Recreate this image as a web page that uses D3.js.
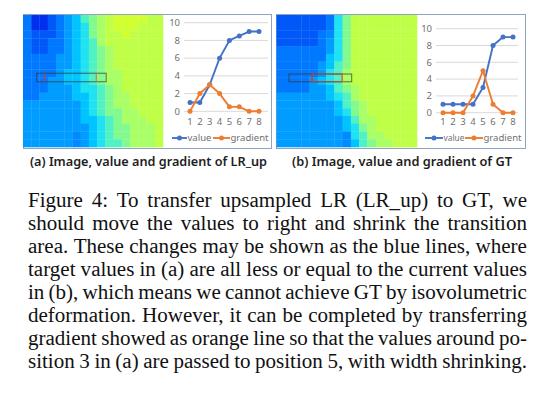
<!DOCTYPE html>
<html>
<head>
<meta charset="utf-8">
<script src="https://cdn.jsdelivr.net/npm/d3@7"></script>
<style>
body { margin: 0; background: #fff; }
svg { display: block; }
</style>
</head>
<body>
<script>
var w = 548;
var h = 393;

// line chart data
var positions = [1, 2, 3, 4, 5, 6, 7, 8];
var yTicks = [0, 2, 4, 6, 8, 10];
var valueA = [1, 1, 3, 6, 8, 8.5, 9, 9];
var gradientA = [0, 2, 3, 2, 0.5, 0.5, 0, 0];
var valueB = [1, 1, 1, 1, 3, 8, 9, 9];
var gradientB = [0, 0, 0, 2, 5, 1, 0, 0];
var legendLabels = ["value", "gradient"];

// heatmap levels (0 = dark blue ... 10 = yellow)
var imageA = [
    [2,0,0,1,2,3,4,6,7,8,9,10,10,10,10,9,9],
    [2,0,0,1,2,3,4,5,7,8,9,10,10,10,9,9,9],
    [2,1,1,1,2,3,4,5,7,8,9,9,10,9,9,9,9],
    [2,1,1,2,2,3,4,5,6,8,9,9,9,9,9,9,9],
    [2,1,1,2,2,3,4,5,6,7,8,9,9,9,9,9,9],
    [2,2,2,2,3,3,4,5,6,7,8,9,9,9,9,9,9],
    [2,2,2,2,3,3,4,5,6,7,8,9,9,9,9,9,9],
    [2,2,2,2,3,4,4,5,6,7,8,8,9,9,9,9,9],
    [2,2,2,3,3,4,4,5,6,7,8,8,9,9,9,9,9],
    [2,2,2,3,3,3,4,5,5,6,7,8,9,9,9,9,9],
    [2,2,3,3,3,3,4,4,5,6,7,8,8,9,9,9,9],
    [3,3,3,3,3,3,3,4,5,6,7,8,8,9,9,9,9],
    [3,3,3,3,3,3,3,4,5,6,7,7,8,8,9,9,9],
    [3,3,3,3,3,3,3,4,4,5,6,7,8,8,8,9,9],
    [3,3,3,3,3,3,3,3,4,5,6,7,7,8,8,8,9],
    [3,3,3,3,3,3,2.5,3,4,5,6,7,7,8,8,8,9],
    [3,3,3,3,3,3,2.5,3,4,5,6,6,7,8,8,8,9]
];
var imageB = [
    [1,1,1,1,1,1,2,5,7,9,9,9,9,9,9,9,9],
    [1,1,1,1,1,1,2,5,7,9,9,9,9,9,9,9,9],
    [1,1,1,1,1,2,2.5,5,7,9,9,9,9,9,9,9,9],
    [1,1,1,1,1,2,3,5,7,9,9,9,9,9,9,9,9],
    [2,2,2,2,2,2,3,5,7,9,9,9,9,9,9,9,9],
    [2,2,2,2,2,2,4,5,7,9,9,9,9,9,9,9,9],
    [2,2,2,2,2,3,4,6,7,9,9,9,9,9,9,9,9],
    [2,2,2,2,2,3,5,6,8,9,9,9,9,9,9,9,9],
    [2,2,2,2,3,4,5,6,8,9,9,9,9,9,9,9,9],
    [2,2,2,2,3,3,4,6,7,8,9,9,9,9,9,9,9],
    [3,3,3,3,3,3,4,5,6,8,9,9,9,9,9,9,9],
    [3,3,3,3,3,3,3,4,6,7,8,9,9,9,9,9,9],
    [3,3,3,3,3,3,3,4,5,7,8,9,9,9,9,9,9],
    [3,3,3,3,3,3,3,3,4,6,8,8,9,9,9,9,9],
    [3,3,3,3,3,3,3,3,4,5,7,8,9,9,9,9,9],
    [3,3,3,3,3,3,3,3,2.5,5,6,8,8,9,9,9,9],
    [3,3,3,3,3,3,3,3,2.5,4,6,7,8,8,9,9,9]
];
var colorStops = ["#0030ee", "#0058f8", "#0078ff", "#009cff", "#00c4ff", "#20e2f0",
    "#50f2c4", "#82fa90", "#a8ff66", "#c0ff48", "#d2ff32"];

var captions = ["(a) Image, value and gradient of LR_up", "(b) Image, value and gradient of GT"];
var paragraph = [
    "Figure 4: To transfer upsampled LR (LR_up) to GT, we",
    "should move the values to right and shrink the transition",
    "area. These changes may be shown as the blue lines, where",
    "target values in (a) are all less or equal to the current values",
    "in (b), which means we cannot achieve GT by isovolumetric",
    "deformation. However, it can be completed by transferring",
    "gradient showed as orange line so that the values around po-",
    "sition 3 in (a) are passed to position 5, with width shrinking."
];

var svg = d3.select("body")
    .append("svg")
    .attr("width", w)
    .attr("height", h);

svg.append("rect").attr("width", w).attr("height", h).attr("fill", "#fff");

var color = d3.scaleLinear()
    .domain(colorStops.map(function (d, i) { return i; }))
    .range(colorStops);

var chartFont = "Noto Sans, sans-serif";

// one panel = frame + heatmap + line chart
function drawPanel(p) {
    var g = svg.append("g");

    g.append("rect")
        .attr("x", p.frame[0] + 0.5)
        .attr("y", p.frame[1] + 0.5)
        .attr("width", p.frame[2] - p.frame[0] - 1)
        .attr("height", p.frame[3] - p.frame[1] - 1)
        .attr("fill", "#fff")
        .attr("stroke", "#8fa3c2")
        .attr("stroke-width", 1);

    var nr = p.image.length, nc = p.image[0].length;
    var cx = d3.scaleLinear().domain([0, nc]).range([p.img[0], p.img[2]]);
    var cy = d3.scaleLinear().domain([0, nr]).range([p.img[1], p.img[3]]);

    var cells = [];
    p.image.forEach(function (row, r) {
        row.forEach(function (v, c) {
            cells.push({r: r, c: c, v: v});
        });
    });
    g.selectAll("rect.cell")
        .data(cells)
        .enter()
        .append("rect")
        .attr("class", "cell")
        .attr("x", function (d) { return cx(d.c); })
        .attr("y", function (d) { return cy(d.r); })
        .attr("width", function (d) { return cx(d.c + 1) - cx(d.c) + 0.3; })
        .attr("height", function (d) { return cy(d.r + 1) - cy(d.r) + 0.3; })
        .attr("fill", function (d) { return color(d.v); });

    // selection box on the image
    var b = p.box;
    g.append("rect")
        .attr("x", cx(b.x0)).attr("y", cy(b.y0))
        .attr("width", cx(b.x1) - cx(b.x0)).attr("height", cy(b.y1) - cy(b.y0))
        .attr("fill", "none").attr("stroke", "#3a3a3a").attr("stroke-opacity", 0.75)
        .attr("stroke-width", 1);
    if (p.inner) {
        g.append("rect")
            .attr("x", cx(p.inner.x0)).attr("y", cy(b.y0))
            .attr("width", cx(p.inner.x1) - cx(p.inner.x0)).attr("height", cy(b.y1) - cy(b.y0))
            .attr("fill", "none").attr("stroke", "#c8402c").attr("stroke-width", 1);
    }
    g.append("line")
        .attr("x1", cx(p.marks[0])).attr("x2", cx(p.marks[0]))
        .attr("y1", cy(b.y0)).attr("y2", cy(b.y1))
        .attr("stroke", "#c83c3c").attr("stroke-width", 1.2);
    g.append("line")
        .attr("x1", cx(p.marks[1])).attr("x2", cx(p.marks[1]))
        .attr("y1", cy(b.y0)).attr("y2", cy(b.y1))
        .attr("stroke", "#e07a2a").attr("stroke-width", 1.2);

    // line chart
    var x = d3.scalePoint().domain(positions).range(p.xr);
    var y = d3.scaleLinear().domain([0, 10]).range(p.yr);

    g.selectAll("line.grid")
        .data(yTicks)
        .enter()
        .append("line")
        .attr("class", "grid")
        .attr("x1", p.grid[0]).attr("x2", p.grid[1])
        .attr("y1", function (d) { return y(d); })
        .attr("y2", function (d) { return y(d); })
        .attr("stroke", "#d9d9d9").attr("stroke-width", 1);

    g.selectAll("text.ytick")
        .data(yTicks)
        .enter()
        .append("text")
        .attr("class", "ytick")
        .attr("x", p.grid[0] - 4)
        .attr("y", function (d) { return y(d); })
        .attr("dy", "0.35em")
        .attr("text-anchor", "end")
        .attr("font-family", chartFont)
        .attr("font-size", 9.5)
        .attr("fill", "#707070")
        .text(function (d) { return d; });

    g.selectAll("text.xtick")
        .data(positions)
        .enter()
        .append("text")
        .attr("class", "xtick")
        .attr("x", function (d) { return x(d); })
        .attr("y", p.xLabelY)
        .attr("dy", "0.35em")
        .attr("text-anchor", "middle")
        .attr("font-family", chartFont)
        .attr("font-size", 9.5)
        .attr("fill", "#707070")
        .text(function (d) { return d; });

    var line = d3.line()
        .x(function (d, i) { return x(positions[i]); })
        .y(function (d) { return y(d); });

    var series = [
        {vals: p.value, color: "#4472c4"},
        {vals: p.gradient, color: "#ed7d31"}
    ];
    series.forEach(function (s) {
        g.append("path")
            .attr("d", line(s.vals))
            .attr("fill", "none")
            .attr("stroke", s.color)
            .attr("stroke-width", 1.9)
            .attr("stroke-linejoin", "round");
        g.selectAll(null)
            .data(s.vals)
            .enter()
            .append("circle")
            .attr("cx", function (d, i) { return x(positions[i]); })
            .attr("cy", function (d) { return y(d); })
            .attr("r", 2.5)
            .attr("fill", s.color);
    });

    // legend
    series.forEach(function (s, i) {
        var lx = p.legend[i];
        g.append("line")
            .attr("x1", lx[0]).attr("x2", lx[1])
            .attr("y1", p.legendY).attr("y2", p.legendY)
            .attr("stroke", s.color).attr("stroke-width", 1.9);
        g.append("circle")
            .attr("cx", (lx[0] + lx[1]) / 2).attr("cy", p.legendY)
            .attr("r", 2.5).attr("fill", s.color);
        g.append("text")
            .attr("x", lx[1] + 0.5)
            .attr("y", p.legendY)
            .attr("dy", "0.35em")
            .attr("font-family", chartFont)
            .attr("font-size", 9.5)
            .attr("fill", "#707070")
            .attr("textLength", p.legendW[i])
            .attr("lengthAdjust", "spacingAndGlyphs")
            .text(legendLabels[i]);
    });

    g.append("text")
        .attr("x", p.captionX)
        .attr("y", 166)
        .attr("text-anchor", "middle")
        .attr("font-family", chartFont)
        .attr("font-size", 12.5)
        .attr("font-weight", 600)
        .attr("fill", "#1e1e1e")
        .attr("textLength", p.captionW)
        .attr("lengthAdjust", "spacingAndGlyphs")
        .text(p.caption);
}

drawPanel({
    frame: [23, 14, 272, 149],
    img: [23, 15, 163, 147],
    image: imageA,
    box: {x0: 1.66, x1: 10.1, y0: 7.5, y1: 8.6},
    marks: [2.6, 8.9],
    xr: [190, 259], yr: [111.3, 22.7],
    grid: [184, 268],
    xLabelY: 122,
    legendY: 138,
    legend: [[172, 187], [213, 230]],
    legendW: [24, 38],
    value: valueA, gradient: gradientA,
    caption: captions[0], captionX: 148.5, captionW: 237
});

drawPanel({
    frame: [276, 14, 526, 149],
    img: [276.5, 15, 417, 147],
    image: imageB,
    box: {x0: 1.5, x1: 9.1, y0: 7.6, y1: 8.6},
    inner: {x0: 4.3, x1: 7.95},
    marks: [4.3, 7.95],
    xr: [443, 513], yr: [112.7, 28.7],
    grid: [436, 518],
    xLabelY: 122,
    legendY: 138,
    legend: [[425, 443], [465, 483]],
    legendW: [21, 38],
    value: valueB, gradient: gradientB,
    caption: captions[1], captionX: 402, captionW: 220
});

// justified caption paragraph: pick the size where the tightest line just fits
var left = 28, right = 527, base0 = 206.5, lead = 23.1, minGap = 0.2;
var probe = 20;
var measured = paragraph.map(function (ln) {
    var words = ln.split(" ");
    var widths = words.map(function (wd) {
        var t = svg.append("text")
            .attr("font-family", "Liberation Serif, Times New Roman, serif")
            .attr("font-size", probe)
            .text(wd);
        var len = t.node().getComputedTextLength();
        t.remove();
        return len;
    });
    return {words: words, widths: widths};
});
var fs = d3.min(measured, function (m) {
    return (right - left) / (d3.sum(m.widths) / probe + (m.words.length - 1) * minGap);
});
measured.forEach(function (m, li) {
    var k = fs / probe;
    var widths = m.widths.map(function (v) { return v * k; });
    var gap = (right - left - d3.sum(widths)) / (m.words.length - 1);
    var cur = left;
    m.words.forEach(function (wd, i) {
        svg.append("text")
            .attr("x", cur)
            .attr("y", base0 + li * lead)
            .attr("font-family", "Liberation Serif, Times New Roman, serif")
            .attr("font-size", fs)
            .attr("fill", "#111")
            .text(wd);
        cur += widths[i] + gap;
    });
});
</script>
</body>
</html>
